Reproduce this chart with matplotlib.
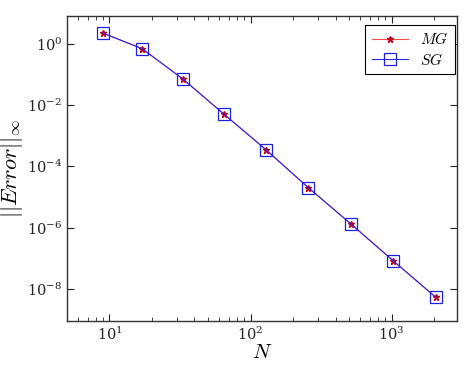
import numpy as np
import matplotlib.pyplot as plt
from matplotlib.ticker import LogLocator, NullLocator, NullFormatter

plt.rcParams['mathtext.fontset'] = 'cm'
plt.rcParams['font.family'] = 'DejaVu Serif'

N = [9, 17, 33, 65, 129, 257, 513, 1025, 2049]
err_mg = [2.2, 0.69, 0.0714, 4.95e-3, 3.43e-4, 2.0e-5, 1.33e-6, 8.3e-8, 5.4e-9]
err_sg = [2.2, 0.69, 0.0714, 4.95e-3, 3.43e-4, 2.0e-5, 1.33e-6, 8.3e-8, 5.4e-9]

fig = plt.figure(figsize=(4.74, 3.7), dpi=100)
ax = fig.add_axes([0.1414, 0.1324, 0.8226, 0.8244])

ax.loglog(N, err_mg, '-', color='#ff4a4a', marker='*', ms=5, mec='#c00020',
          mfc='#c00020', lw=0.8, label='$MG$')
ax.loglog(N, err_sg, '-', color='#2828e0', marker='s', ms=8, mfc='none',
          mec='#2020e0', mew=0.9, lw=0.8, label='$SG$')

ax.set_xlim(5.0, 2900)
ax.set_ylim(9e-10, 8)
ax.yaxis.set_major_locator(LogLocator(base=100.0, numticks=10))
ax.yaxis.set_minor_locator(NullLocator())
ax.xaxis.set_minor_locator(LogLocator(base=10.0, subs=np.arange(2, 10), numticks=10))
ax.xaxis.set_minor_formatter(NullFormatter())

ax.tick_params(which='both', direction='in', top=True, right=True,
               labelsize=10.5, colors='#222222')
ax.tick_params(which='major', length=5)
ax.tick_params(which='minor', length=3)
for s in ax.spines.values():
    s.set_color('#333333')
    s.set_linewidth(1.0)

ax.set_xlabel('$N$', fontsize=15, labelpad=0)
ax.set_ylabel(r'$||Error||_{\infty}$', fontsize=16, labelpad=1)

leg = ax.legend(loc='upper right', bbox_to_anchor=(0.995, 0.97), fontsize=11,
                fancybox=False, framealpha=1, edgecolor='black',
                borderaxespad=0, handlelength=2.4, labelspacing=0.3)
leg.get_frame().set_linewidth(0.8)

fig.savefig('out.png', dpi=100)
